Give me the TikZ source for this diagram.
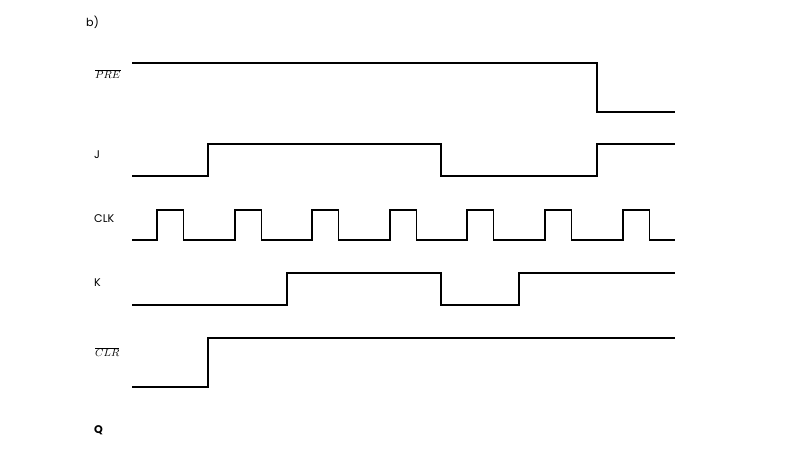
\documentclass[tikz,border=0pt]{standalone}
\usepackage{fontspec}
\usepackage{amsmath}
\newfontfamily\gothic{Poppins}
\usetikzlibrary{calc}

\tikzset{
  signal/.style={line width=1.6pt, line join=miter},
  siglabel/.style={anchor=west, inner sep=0pt, font=\gothic\fontsize{9.5}{11}\selectfont},
  barlabel/.style={anchor=west, inner sep=0pt, font=\fontsize{9}{10}\selectfont},
}

\begin{document}
\begin{tikzpicture}[x=0.03cm, y=-0.03cm]
    \useasboundingbox (0,0) rectangle (804,471);
    % labels
    \node[siglabel] (part) at (86,22) {b)};
    \node[barlabel] (pre) at (95,74) {$\overline{PRE}$};
    \node[siglabel] (j) at (94,155) {J};
    \node[siglabel] (clk) at (94,219) {CLK};
    \node[siglabel] (k) at (94,283) {K};
    \node[barlabel] (clr) at (95,352) {$\overline{CLR}$};
    \node[siglabel, font=\gothic\bfseries\fontsize{9.5}{11}\selectfont] (q) at (94,430) {Q};
    % waveforms
    \draw[signal] (132,63) -- (597,63) -- ++(0,49) -- (675,112);
    \draw[signal] (132,176) -- (208,176) -- ++(0,-32) -- (441,144) -- ++(0,32) -- (597,176) -- ++(0,-32) -- (675,144);
    \draw[signal] (132,240)
        \foreach \t in {157,235,312,390,467,545,623} { -- (\t,240) -- ++(0,-30) -- ++(26.5,0) -- ++(0,30) }
        -- (675,240);
    \draw[signal] (132,305) -- (287,305) -- ++(0,-32) -- (441,273) -- ++(0,32) -- (519,305) -- ++(0,-32) -- (675,273);
    \draw[signal] (132,387) -- (208,387) -- ++(0,-49) -- (675,338);
\end{tikzpicture}
\end{document}
